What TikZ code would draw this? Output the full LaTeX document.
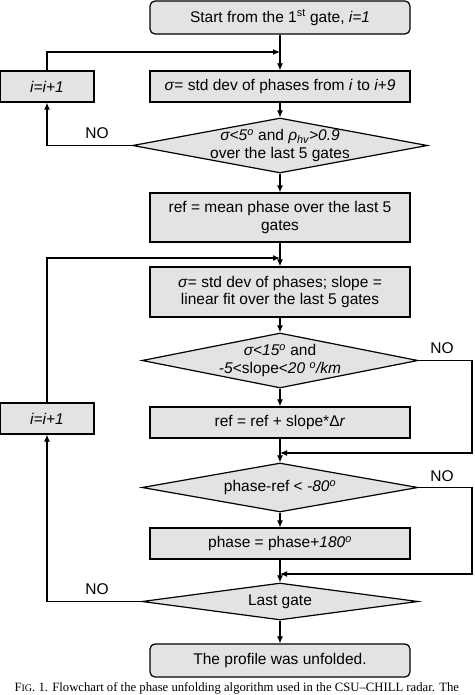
\documentclass[tikz,border=0pt]{standalone}
\usepackage{fontspec}
\setmainfont{Liberation Sans}
\newfontfamily\capfont{Liberation Serif}
\usetikzlibrary{shapes.geometric,arrows.meta}

\newcommand{\dg}{\textsuperscript{o}}

\begin{document}
\begin{tikzpicture}[x=1pt, y=-1pt, line width=1.2pt,
    >={Latex[length=7pt,width=6pt]},
    font=\fontsize{15.5}{17.5}\selectfont,
    box/.style={draw, fill=gray!22, minimum width=260pt, align=center, inner sep=1pt},
    terminal/.style={box, rounded corners=5pt, minimum height=33pt},
    counter/.style={draw, fill=gray!22, minimum width=94pt, minimum height=31pt},
    decision/.style={draw, fill=gray!22, diamond, aspect=5.4, inner xsep=0pt, inner ysep=-6pt, align=center},
    no/.style={inner sep=0pt}]
    \useasboundingbox (0,0) rectangle (474,695);

    \node[terminal] (start) at (280,17.5) {Start from the 1\textsuperscript{st} gate, \textit{i=1}};
    \node[box, minimum height=31pt] (sd) at (280,86.5) {\textit{σ}= std dev of phases from \textit{i} to \textit{i+9}};
    \node[counter] (inc1) at (47,86.5) {\textit{i=i+1}};
    \node[decision, minimum width=295pt, minimum height=55pt] (chk1) at (280,145.5)
        {\textit{σ<5\dg} and \textit{ρ\textsubscript{hv}>0.9}\\over the last 5 gates};
    \node[box, minimum height=49pt] (mean) at (280,217.5) {ref = mean phase over the last 5\\gates};
    \node[box, minimum height=50pt] (fit) at (280,292) {\textit{σ}= std dev of phases; slope =\\linear fit over the last 5 gates};
    \node[decision, minimum width=276pt, minimum height=55pt] (chk2) at (280,360.5)
        {\textit{σ<15\dg} and\\\textit{-5}<slope<\textit{20 \dg/km}};
    \node[box, minimum height=31pt] (upd) at (280,422.5) {ref = ref + slope*Δ\textit{r}};
    \node[counter] (inc2) at (47,418.5) {\textit{i=i+1}};
    \node[decision, minimum width=276pt, minimum height=49pt] (chk3) at (280,487.5)
        {phase-ref < \textit{-80\dg}};
    \node[box, minimum height=31pt] (flip) at (280,543.5) {phase = phase+\textit{180\dg}};
    \node[decision, minimum width=276pt, minimum height=37pt] (last) at (280,601.5) {Last gate};
    \node[terminal] (stop) at (280,660.5) {The profile was unfolded.};

    \coordinate (m1) at (280,52);
    \coordinate (m2) at (280,258);
    \coordinate (m3) at (280,453);
    \coordinate (m4) at (280,574);
    \coordinate (r1) at (472,360.5);
    \coordinate (r2) at (472,487.5);

    % main line
    \draw[->] (start) -- (sd);
    \draw[->] (sd) -- (chk1);
    \draw[->] (chk1) -- (mean);
    \draw[->] (mean) -- (fit);
    \draw[->] (fit) -- (chk2);
    \draw[->] (chk2) -- (upd);
    \draw[->] (upd) -- (chk3);
    \draw[->] (chk3) -- (flip);
    \draw[->] (flip) -- (last);
    \draw[->] (last) -- (stop);

    % loops
    \draw[->] (inc1.north) |- (m1);
    \draw[->] (chk1.west) -| (inc1.south);
    \draw[->] (inc2.north) |- (m2);
    \draw[->] (last.west) -| (inc2.south);
    \draw[->] (chk2.east) -- (r1) |- (m3);
    \draw[->] (chk3.east) -- (r2) |- (m4);

    \node[no] (no1) at (97,133) {NO};
    \node[no] (no2) at (442,348) {NO};
    \node[no] (no3) at (442,476) {NO};
    \node[no] (no4) at (97,589) {NO};

    \node[anchor=south west, inner sep=0pt, font=\capfont\fontsize{12.7}{14}\selectfont] (cap) at (14,695)
        {F{\fontsize{10}{12}\selectfont IG}. 1. Flowchart of the phase unfolding algorithm used in the CSU–CHILL radar. The};
\end{tikzpicture}
\end{document}
